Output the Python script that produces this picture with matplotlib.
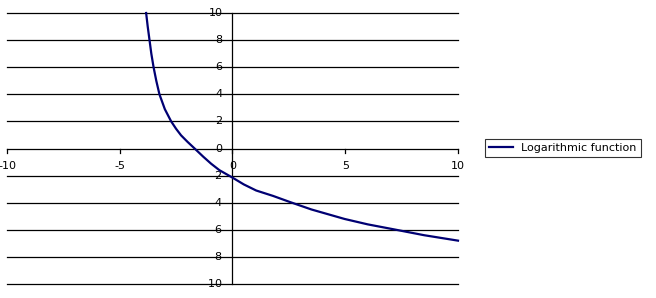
import matplotlib
matplotlib.use("Agg")
import matplotlib.pyplot as plt

# points
x_vals = [-3.83, -3.76, -3.68, -3.60, -3.50, -3.38, -3.24, -3.00, -2.72, -2.50, -2.28, -2.00,
          -1.68, -1.30, -0.95, -0.58, 0.0, 0.5, 1.05, 1.8, 2.53, 3.5, 4.97, 6.0, 7.26, 8.5, 10.0]
y_vals = [10.0, 9.0, 8.0, 7.0, 6.0, 5.0, 4.0, 2.9, 2.0, 1.45, 0.97, 0.5,
          0.0, -0.6, -1.12, -1.6, -2.15, -2.65, -3.1, -3.5, -3.94, -4.5, -5.2, -5.6, -6.0, -6.4, -6.8]
series_name = "Logarithmic function"
x_ticks = [-10, -5, 0, 5, 10]
y_ticks = [-10, -8, -6, -4, -2, 0, 2, 4, 6, 8, 10]

fig = plt.figure(figsize=(6.56, 2.98), dpi=100)
ax = fig.add_axes([7/656, 1 - 284/298, (458 - 7)/656, (284 - 13)/298])

for yv in y_ticks:
    ax.plot([-10, 10], [yv, yv], color="black", lw=0.9, zorder=1, clip_on=False)
ax.plot([0, 0], [-10, 10], color="black", lw=0.9, zorder=1, clip_on=False)

ax.plot(x_vals, y_vals, color="#000073", lw=1.6, label=series_name, zorder=3, clip_on=False)

# x-axis tick marks and labels
for xv in x_ticks:
    ax.plot([xv, xv], [0, -0.35], color="black", lw=0.9, zorder=1, clip_on=False)
    ax.text(xv, -0.95, str(xv), ha="center", va="top", fontsize=8, zorder=2)
for yv in y_ticks:
    ax.text(-0.45, yv, str(yv), ha="right", va="center", fontsize=8, zorder=2)

ax.set_xlim(-10, 10)
ax.set_ylim(-10, 10)
ax.axis("off")

leg = fig.legend(loc="center left", bbox_to_anchor=(479/656, 1 - 148/298), fontsize=8,
                 frameon=True, fancybox=False, edgecolor="black", handlelength=2.2,
                 borderpad=0.4, handletextpad=0.7)
leg.get_frame().set_linewidth(0.8)

fig.savefig("out.png", dpi=100)
